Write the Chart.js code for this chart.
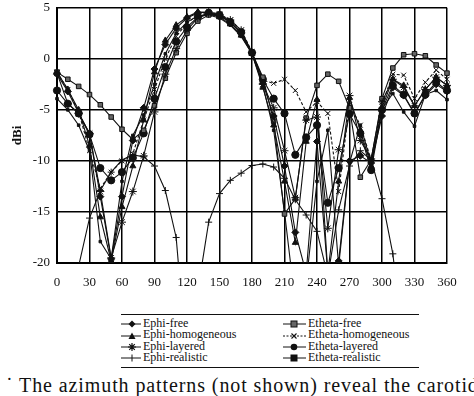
<!DOCTYPE html>
<html>
<head>
<meta charset="utf-8">
<script src="https://cdn.jsdelivr.net/npm/chart.js"></script>
<style>
  body { margin: 0; background: #fff; width: 474px; height: 396px; overflow: hidden; position: relative; font-family: "Liberation Serif", serif; color: #111; }
  #wrap { position: absolute; left: 0; top: -7.5px; width: 474px; height: 308px; }
  #legend { position: absolute; left: 121px; top: 314px; width: 298px; height: 52px; border-top: 1.5px solid #111; border-bottom: 1.5px solid #111; }
  .item { position: absolute; font-size: 12px; line-height: 11px; white-space: nowrap; }
  .item svg { vertical-align: middle; margin-right: 2px; }
  #caption { position: absolute; left: 6px; top: 374px; font-size: 20px; white-space: nowrap; letter-spacing: 0.9px; }
</style>
</head>
<body>
<div id="wrap"><canvas id="c" width="474" height="308"></canvas></div>
<div id="legend"></div>
<div id="caption">˙ The azimuth patterns (not shown) reveal the carotid</div>

<script>
  // azimuth angle, degrees
  const angles = [0, 10, 20, 30, 40, 50, 60, 70, 80, 90, 100, 110, 120, 130, 140, 150, 160, 170, 180,
                  190, 200, 210, 220, 230, 240, 250, 260, 270, 280, 290, 300, 310, 320, 330, 340, 350, 360];

  // gain in dBi (below -20 = off the chart)
  const ephiFree = [-1.5, -3.2, -5.3, -7.3, -13.5, -19.6, -13.5, -8.0, -4.8, -1.0, 1.4, 3.0, 4.0, 4.5, 4.6, 4.3, 3.6, 2.5, 0.6,
                    -2.4, -5.6, -10.5, -17.0, -21.0, -8.1, -21.0, -19.8, -10.0, -9.5, -10.2, -5.6, -2.8, -3.6, -5.4, -3.6, -2.5, -3.2];
  const ephiHomogeneous = [-1.3, -3.0, -5.0, -8.5, -15.5, -19.8, -14.5, -10.5, -6.0, -1.3, 1.8, 3.3, 4.1, 4.6, 4.5, 4.1, 3.4, 2.3, 0.5,
                    -2.8, -6.5, -12.0, -18.0, -8.1, -4.0, -21.0, -12.0, -3.8, -7.0, -10.5, -4.8, -2.0, -2.6, -4.6, -3.0, -1.8, -2.6];
  const ephiLayered = [-1.4, -4.4, -5.35, -7.3, -13.0, -19.5, -16.0, -13.0, -9.5, -5.2, -1.5, 1.0, 2.8, 4.0, 4.4, 4.3, 3.8, 2.8, 0.6,
                    -2.5, -4.8, -9.0, -13.6, -6.0, -5.7, -16.6, -8.9, -3.6, -8.0, -9.8, -4.2, -2.0, -2.8, -4.6, -3.0, -1.8, -2.6];
  const ephiRealistic = [-26, -24, -20.3, -15.6, -12.9, -11.1, -9.9, -9.4, -9.6, -10.5, -12.9, -17.5, -30, -22.7, -16.0, -13.2, -11.9, -11.2, -10.45,
                    -10.3, -10.6, -11.7, -13.8, -15.3, -16.9, -21.3, -14.8, -10.5, -9.0, -9.9, -13.7, -19.1, -28, -30, -30, -30, -30];
  const ethetaFree = [-1.3, -2.0, -2.7, -3.5, -4.5, -5.7, -6.9, -7.9, -7.0, -4.6, -1.9, 0.6, 2.5, 3.7, 4.3, 4.2, 3.6, 2.5, 0.6,
                    -1.8, -6.1, -15.2, -13.7, -5.8, -2.6, -1.5, -2.2, -4.8, -11.6, -9.9, -3.9, -0.9, 0.4, 0.5, 0.3, -0.6, -1.4];
  const ethetaHomogeneous = [-1.3, -3.0, -5.2, -9.0, -12.7, -11.1, -10.0, -9.3, -6.0, -3.0, 0.0, 2.2, 3.5, 4.3, 4.6, 4.4, 3.8, 2.8, 0.7,
                    -2.1, -2.4, -2.0, -3.1, -5.2, -4.2, -5.35, -13.0, -4.5, -6.5, -9.9, -4.5, -1.5, -1.6, -3.9, -2.3, -1.1, -2.0];
  const ethetaLayered = [-3.1, -4.4, -5.35, -7.4, -10.7, -11.9, -11.1, -9.7, -7.3, -3.9, -0.8, 1.7, 3.1, 4.1, 4.5, 4.3, 3.6, 2.6, 0.6,
                    -2.0, -3.9, -5.35, -9.4, -7.7, -6.5, -14.1, -10.7, -5.4, -7.3, -10.9, -5.0, -2.6, -3.5, -5.35, -3.5, -2.3, -3.1];
  const ethetaRealistic = [-3.9, -5.0, -6.5, -9.0, -17.9, -19.6, -12.0, -7.5, -5.5, -2.5, 0.5, 2.5, 3.6, 4.2, 4.3, 4.0, 3.3, 2.2, 0.5,
                    -2.6, -7.0, -15.0, -24.0, -22.0, -12.0, -7.0, -20.3, -10.2, -6.5, -10.2, -4.9, -3.4, -5.2, -6.6, -3.5, -3.1, -4.0];

  const series = [
    { label: 'Ephi-free',          data: ephiFree,          pointStyle: 'rectRot',  radius: 3.5, fill: '#111', dash: [] },
    { label: 'Ephi-homogeneous',   data: ephiHomogeneous,   pointStyle: 'triangle', radius: 3.5, fill: '#111', dash: [] },
    { label: 'Ephi-layered',       data: ephiLayered,       pointStyle: 'star',     radius: 4,   fill: '#111', dash: [] },
    { label: 'Ephi-realistic',     data: ephiRealistic,     pointStyle: 'cross',    radius: 3.5, fill: '#111', dash: [] },
    { label: 'Etheta-free',        data: ethetaFree,        pointStyle: 'rect',     radius: 3.2, fill: '#666', dash: [] },
    { label: 'Etheta-homogeneous', data: ethetaHomogeneous, pointStyle: 'crossRot', radius: 3.5, fill: '#111', dash: [3, 2] },
    { label: 'Etheta-layered',     data: ethetaLayered,     pointStyle: 'circle',   radius: 3.6, fill: '#111', dash: [] },
    { label: 'Etheta-realistic',   data: ethetaRealistic,   pointStyle: 'rect',     radius: 1.8, fill: '#111', dash: [] }
  ];

  const serif = "'Liberation Serif', serif";

  new Chart(document.getElementById('c'), {
    type: 'line',
    data: {
      datasets: series.map(s => ({
        label: s.label,
        data: angles.map((a, i) => ({ x: a, y: s.data[i] })),
        borderColor: '#111',
        borderWidth: 1.1,
        borderDash: s.dash,
        pointStyle: s.pointStyle,
        pointRadius: s.radius,
        pointBackgroundColor: s.fill,
        pointBorderColor: '#111',
        pointBorderWidth: 1,
        tension: 0,
        clip: { left: 6, right: 6, top: 6, bottom: 0 }
      }))
    },
    options: {
      responsive: false,
      animation: false,
      layout: { padding: { left: 10, right: 27, top: 0, bottom: 0 } },
      plugins: { legend: { display: false }, tooltip: { enabled: false } },
      scales: {
        x: {
          type: 'linear', min: 0, max: 360,
          ticks: { stepSize: 30, color: '#111', padding: 12, font: { family: serif, size: 13 } },
          grid: { color: '#000', lineWidth: 1.5, drawTicks: false },
          border: { color: '#000', width: 2 },
          afterFit: s => { s.height = 38; }
        },
        y: {
          min: -20, max: 5,
          ticks: { stepSize: 5, color: '#111', padding: 7, font: { family: serif, size: 13 } },
          grid: { color: '#000', lineWidth: 1.5, drawTicks: false },
          border: { color: '#000', width: 2 },
          title: { display: true, text: 'dBi', color: '#111', padding: { top: 0, bottom: 0 }, font: { family: serif, size: 13, weight: 'bold' } },
          afterFit: s => { s.width = 47; }
        }
      }
    }
  });

  // legend in two columns, like the original
  function marker(style, fill) {
    switch (style) {
      case 'rectRot':  return '<polygon points="11,1.5 14.5,5 11,8.5 7.5,5" fill="#111"/>';
      case 'triangle': return '<polygon points="11,1.5 14.5,8 7.5,8" fill="#111"/>';
      case 'star':     return '<path d="M7,5H15M11,1V9M8.2,2.2L13.8,7.8M13.8,2.2L8.2,7.8" stroke="#111" stroke-width="1.2"/>';
      case 'cross':    return '<path d="M11,1.5V8.5" stroke="#111" stroke-width="1"/>';
      case 'crossRot': return '<path d="M8.5,2.5L13.5,7.5M13.5,2.5L8.5,7.5" stroke="#111" stroke-width="1.1"/>';
      case 'circle':   return '<circle cx="11" cy="5" r="3.3" fill="#111"/>';
      default:         return '<rect x="8" y="2" width="6" height="6" fill="' + fill + '" stroke="#111"/>';
    }
  }
  const legend = document.getElementById('legend');
  series.forEach((s, i) => {
    const col = i < 4 ? 0 : 1, row = i % 4;
    const el = document.createElement('div');
    el.className = 'item';
    el.style.left = (col ? 162 : 0) + 'px';
    el.style.top = (3 + row * 11.3) + 'px';
    const dash = s.dash.length ? ' stroke-dasharray="2,1.5"' : '';
    const w = col ? 23 : 20;
    el.innerHTML = '<svg width="' + w + '" height="10"><line x1="0" y1="5" x2="' + w + '" y2="5" stroke="#111" stroke-width="1"' + dash + '/>' +
      marker(s.pointStyle, s.fill) + '</svg>' + s.label;
    legend.appendChild(el);
  });
</script>
</body>
</html>
